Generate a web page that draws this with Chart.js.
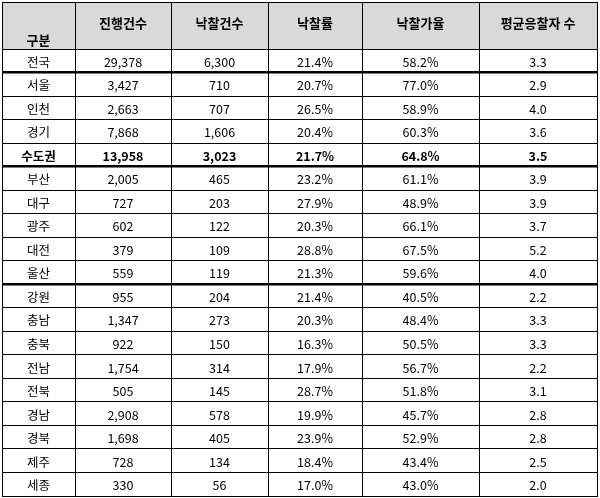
<!DOCTYPE html>
<html>
<head>
<meta charset="utf-8">
<script src="https://cdn.jsdelivr.net/npm/chart.js@4"></script>
<style>
body { margin: 0; background: #fff; }
#wrap { width: 600px; height: 498px; }
</style>
</head>
<body>
<div id="wrap"><canvas id="table"></canvas></div>
<script>
const headers = ["구분", "진행건수", "낙찰건수", "낙찰률", "낙찰가율", "평균응찰자 수"]
const regions = ["전국", "서울", "인천", "경기", "수도권", "부산", "대구", "광주", "대전", "울산", "강원", "충남", "충북", "전남", "전북", "경남", "경북", "제주", "세종"]
const counts = ["29,378", "3,427", "2,663", "7,868", "13,958", "2,005", "727", "602", "379", "559", "955", "1,347", "922", "1,754", "505", "2,908", "1,698", "728", "330"]
const wins = ["6,300", "710", "707", "1,606", "3,023", "465", "203", "122", "109", "119", "204", "273", "150", "314", "145", "578", "405", "134", "56"]
const winRates = ["21.4%", "20.7%", "26.5%", "20.4%", "21.7%", "23.2%", "27.9%", "20.3%", "28.8%", "21.3%", "21.4%", "20.3%", "16.3%", "17.9%", "28.7%", "19.9%", "23.9%", "18.4%", "17.0%"]
const priceRates = ["58.2%", "77.0%", "58.9%", "60.3%", "64.8%", "61.1%", "48.9%", "66.1%", "67.5%", "59.6%", "40.5%", "48.4%", "50.5%", "56.7%", "51.8%", "45.7%", "52.9%", "43.4%", "43.0%"]
const bidders = ["3.3", "2.9", "4.0", "3.6", "3.5", "3.9", "3.9", "3.7", "5.2", "4.0", "2.2", "3.3", "3.3", "2.2", "3.1", "2.8", "2.8", "2.5", "2.0"]
const columns = [regions, counts, wins, winRates, priceRates, bidders]

// layout of the grid (column edges, header height in row units)
const colEdges = [0, 73, 169, 266, 360, 477, 595]
const headerRows = 2
const boldRow = 4
const thickAfter = [1, 5, 10]   // row count below header where a thick rule goes
const font = "'Noto Sans CJK KR', 'Noto Sans', sans-serif"

const cellPlugin = {
    id: "cells",
    beforeDraw(chart) {
        const { ctx, scales: { x, y } } = chart
        ctx.save()
        ctx.fillStyle = "#d9d9d9"
        ctx.fillRect(x.left, y.getPixelForValue(0), x.right - x.left, y.getPixelForValue(headerRows) - y.getPixelForValue(0))
        ctx.restore()
    },
    afterDraw(chart) {
        const { ctx, scales: { x, y } } = chart
        ctx.save()
        ctx.fillStyle = "#000"
        ctx.textAlign = "center"
        ctx.textBaseline = "middle"
        headers.forEach((h, c) => {
            const cx = (x.getPixelForValue(colEdges[c]) + x.getPixelForValue(colEdges[c + 1])) / 2
            ctx.font = "bold 13px " + font
            const cy = c === 0 ? y.getPixelForValue(1.6) : y.getPixelForValue(0.9)
            ctx.fillText(h, cx, cy)
        })
        columns.forEach((col, c) => {
            const cx = (x.getPixelForValue(colEdges[c]) + x.getPixelForValue(colEdges[c + 1])) / 2
            col.forEach((v, r) => {
                ctx.font = (r === boldRow ? "bold " : "") + "12.5px " + font
                ctx.fillText(v, cx, y.getPixelForValue(headerRows + r + 0.55))
            })
        })
        ctx.restore()
    }
}

const rowTicks = []
for (let i = 0; i <= regions.length; i++) rowTicks.push(i === 0 ? 0 : headerRows + i)
rowTicks.splice(1, 0, headerRows)
const uniq = [...new Set(rowTicks)]

new Chart(document.querySelector("#table"), {
    type: "scatter",
    data: { datasets: [{ data: [] }] },
    plugins: [cellPlugin],
    options: {
        responsive: true,
        maintainAspectRatio: false,
        animation: false,
        layout: { padding: { left: 2, right: 3, top: 2, bottom: 2 } },
        plugins: { legend: { display: false }, tooltip: { enabled: false } },
        scales: {
            x: {
                type: "linear", min: 0, max: colEdges[colEdges.length - 1],
                afterBuildTicks: (s) => { s.ticks = colEdges.map(v => ({ value: v })) },
                ticks: { display: false },
                grid: { color: "#000", lineWidth: 1, drawTicks: false },
                border: { display: true, color: "#000" }
            },
            y: {
                type: "linear", reverse: true, min: 0, max: headerRows + regions.length,
                afterBuildTicks: (s) => { s.ticks = uniq.map(v => ({ value: v })) },
                ticks: { display: false },
                grid: {
                    color: "#000", drawTicks: false,
                    lineWidth: (ctx) => {
                        const v = ctx.tick ? ctx.tick.value : 0
                        return thickAfter.includes(v - headerRows) ? 2.5 : 1
                    }
                },
                border: { display: true, color: "#000" }
            }
        }
    }
})
</script>
</body>
</html>
